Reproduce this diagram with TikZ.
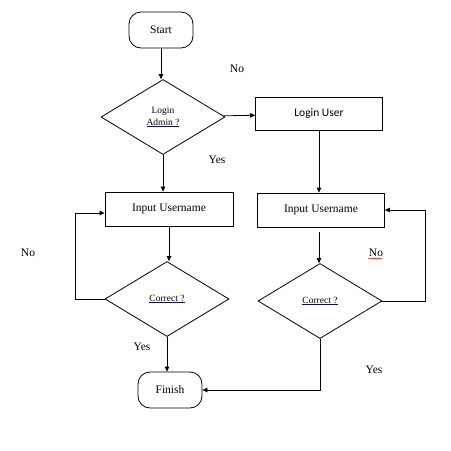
\documentclass[tikz,border=0pt]{standalone}
\usepackage{fontspec}
\setmainfont{Liberation Serif}
\newfontfamily\calibri{Carlito}
\usetikzlibrary{shapes.geometric,arrows.meta,decorations.pathmorphing}

% blue grammar underline
\newcommand{\gramline}[1]{\setbox0\hbox{\color{black}#1}\copy0\llap{\textcolor{blue!70!black}{\rule[-1.6pt]{\wd0}{0.5pt}}}}

\tikzset{
  every node/.style={font=\fontsize{11.5}{13}\selectfont},
  term/.style={draw, rounded corners=12pt, minimum width=64pt, minimum height=36pt},
  stepbox/.style={draw, rectangle, minimum width=128pt, minimum height=34pt},
  test/.style={draw, diamond, minimum width=124pt, minimum height=75pt, inner sep=0pt, aspect=1.65},
  small/.style={font=\fontsize{9.5}{11}\selectfont},
  link/.style={-{Triangle[length=5pt,width=4.5pt]}}
}

\begin{document}
\begin{tikzpicture}[x=1pt, y=-1pt, line width=0.8pt]

\useasboundingbox (0,0) rectangle (451,451);

\node [term] (start) at (161,30) {Start};
\node [test, small, align=center] (admin) at (163,117) {Login\\[1pt]\gramline{Admin ?}};
\node [stepbox, minimum width=127pt, minimum height=33pt] (user) at (319,114) {\calibri\fontsize{11.5}{13}\selectfont Login User};

\node [stepbox] (inleft) at (169,209) {Input Username};
\node [test, small] (okleft) at (167,299) {\gramline{Correct ?}};
\node [term] (finish) at (170,390) {Finish};

\node [stepbox, minimum width=127pt] (inright) at (321,210) {Input Username};
\node [test, small] (okright) at (320,301) {\gramline{Correct ?}};

% labels
\node (noadmin) at (237,69) {No};
\node (yesadmin) at (217,160) {Yes};
\node (noleft) at (28,253) {No};
\node (yesleft) at (142,347) {Yes};
\node (noright) at (376,253) {No};
\node (yesright) at (374,370) {Yes};
\draw [red, line width=0.5pt, decorate, decoration={snake, amplitude=0.6pt, segment length=2.2pt}]
  ([yshift=2pt]noright.south west) ++(3,0) -- ++(14,0);

% connectors
\draw [link] (start) -- (start |- admin.north);
\draw [link] (admin) -- (user);
\draw [link] (admin) -- (admin |- inleft.north);
\draw [link] (inleft) -- (inleft |- okleft.north);
\draw [link] (okleft) -- (okleft |- finish.north);
\draw [link] (okleft.west) -- ++(-29,0) |- ([yshift=-4pt]inleft.west);

\draw [link] (user) -- (user |- inright.north);
\draw [link] ([yshift=-5pt]user |- inright.south) -- (user |- okright.north);
\draw [link] (okright.east) -- ++(43,0) |- (inright.east);
\draw [link] (okright.south) |- (finish.east);

\end{tikzpicture}
\end{document}
